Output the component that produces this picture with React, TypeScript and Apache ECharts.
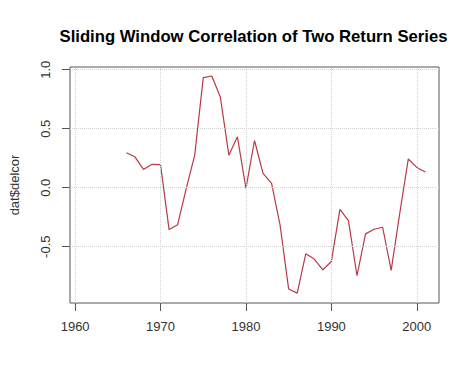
import React, { useEffect, useRef } from "react";
import * as echarts from "echarts";

const years: number[] = [
  1966, 1967, 1968, 1969, 1970, 1971, 1972, 1973, 1974, 1975, 1976, 1977,
  1978, 1979, 1980, 1981, 1982, 1983, 1984, 1985, 1986, 1987, 1988, 1989,
  1990, 1991, 1992, 1993, 1994, 1995, 1996, 1997, 1998, 1999, 2000, 2001,
];
const delcor: number[] = [
  0.296, 0.262, 0.155, 0.198, 0.195, -0.355, -0.313, -0.01, 0.276, 0.933,
  0.947, 0.769, 0.276, 0.431, -0.005, 0.4, 0.122, 0.037, -0.32, -0.859,
  -0.893, -0.56, -0.605, -0.696, -0.625, -0.183, -0.279, -0.746, -0.391,
  -0.352, -0.335, -0.7, -0.22, 0.243, 0.172, 0.133,
];
const xTicks: number[] = [1960, 1970, 1980, 1990, 2000];
const yTicks: number[] = [-0.5, 0, 0.5, 1.0];

const TITLE = "Sliding Window Correlation of Two Return Series";
const Y_NAME = "dat$delcor";

export default function App() {
  const ref = useRef<HTMLDivElement>(null);
  useEffect(() => {
    document.body.style.margin = "0";
    if (!ref.current) return;
    const chart = echarts.init(ref.current, null, { renderer: "svg" });
    const font = "Arial, 'Liberation Sans', Helvetica, sans-serif";
    const gridStyle = { type: "dotted" as const, color: "#d2d2d2", width: 1 };
    chart.setOption({
      animation: false,
      backgroundColor: "#ffffff",
      title: {
        text: TITLE,
        left: 253.5,
        top: 28,
        padding: 0,
        textAlign: "center",
        textStyle: { fontFamily: font, fontSize: 16.7, fontWeight: "bold", color: "#000" },
      },
      grid: {
        left: 68,
        top: 67,
        width: 371,
        height: 236,
        show: true,
        borderColor: "#555",
        borderWidth: 1,
        backgroundColor: "transparent",
      },
      xAxis: {
        type: "value",
        min: 1959.4,
        max: 2002.6,
        axisLine: { show: false, onZero: false },
        splitLine: { show: false },
        axisTick: {
          show: true,
          customValues: xTicks,
          length: 8,
          lineStyle: { color: "#555" },
        },
        axisLabel: {
          customValues: xTicks,
          margin: 17,
          fontFamily: font,
          fontSize: 13,
          color: "#333",
          formatter: (v: number) => String(v),
        },
      },
      yAxis: {
        type: "value",
        min: -0.977,
        max: 1.023,
        name: Y_NAME,
        nameLocation: "middle",
        nameRotate: 90,
        nameGap: 49,
        nameTextStyle: { fontFamily: font, fontSize: 13, color: "#333" },
        axisLine: { show: false, onZero: false },
        splitLine: { show: false },
        axisTick: {
          show: true,
          customValues: yTicks,
          length: 8,
          lineStyle: { color: "#555" },
        },
        axisLabel: {
          customValues: yTicks,
          rotate: 90,
          margin: 18,
          fontFamily: font,
          fontSize: 13,
          color: "#333",
          formatter: (v: number) => v.toFixed(1),
        },
      },
      series: [
        {
          type: "line",
          data: [],
          silent: true,
          markLine: {
            silent: true,
            symbol: "none",
            label: { show: false },
            lineStyle: gridStyle,
            data: [
              ...xTicks.map((x) => ({ xAxis: x })),
              ...yTicks.map((y) => ({ yAxis: y })),
            ],
          },
        },
        {
          type: "line",
          data: years.map((y, i) => [y, delcor[i]]),
          showSymbol: false,
          symbol: "none",
          lineStyle: { color: "#b83a45", width: 1.2 },
          itemStyle: { color: "#b83a45" },
          z: 3,
        },
      ],
    });
    return () => chart.dispose();
  }, []);
  return <div ref={ref} style={{ width: 474, height: 387 }} />;
}
